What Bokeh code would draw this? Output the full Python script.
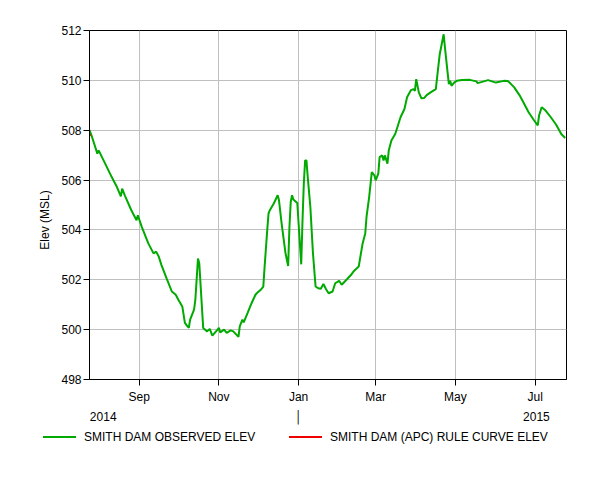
from datetime import datetime
import pandas as pd
from bokeh.plotting import figure
from bokeh.layouts import column
from bokeh.models import (Range1d, FixedTicker, DatetimeTickFormatter, DatetimeAxis, Div)
from bokeh.embed import file_html
from bokeh.resources import INLINE

# ---------------- data ----------------
obs_dates = [
    "2014-07-25", "2014-07-27", "2014-07-31", "2014-08-01", "2014-08-06", "2014-08-11",
    "2014-08-15", "2014-08-18", "2014-08-19", "2014-08-21", "2014-08-26", "2014-08-30",
    "2014-08-31", "2014-09-03", "2014-09-08", "2014-09-12", "2014-09-14", "2014-09-16",
    "2014-09-18", "2014-09-22", "2014-09-26", "2014-09-29", "2014-10-01", "2014-10-04",
    "2014-10-06", "2014-10-08", "2014-10-09", "2014-10-10", "2014-10-13", "2014-10-14",
    "2014-10-16", "2014-10-17", "2014-10-19", "2014-10-20", "2014-10-23", "2014-10-25",
    "2014-10-27", "2014-10-31", "2014-11-01", "2014-11-02", "2014-11-05", "2014-11-07",
    "2014-11-10", "2014-11-12", "2014-11-16", "2014-11-17", "2014-11-19", "2014-11-20",
    "2014-11-23", "2014-11-26", "2014-11-29", "2014-11-30", "2014-12-03", "2014-12-05",
    "2014-12-06", "2014-12-08", "2014-12-09", "2014-12-10", "2014-12-13", "2014-12-16",
    "2014-12-17", "2014-12-19", "2014-12-22", "2014-12-24", "2014-12-25", "2014-12-26",
    "2014-12-27", "2014-12-28", "2014-12-31", "2015-01-01", "2015-01-03", "2015-01-04",
    "2015-01-05", "2015-01-06", "2015-01-07", "2015-01-08", "2015-01-10", "2015-01-12",
    "2015-01-14", "2015-01-16", "2015-01-18", "2015-01-20", "2015-01-22", "2015-01-24",
    "2015-01-27", "2015-01-29", "2015-02-01", "2015-02-03", "2015-02-07", "2015-02-10",
    "2015-02-12", "2015-02-16", "2015-02-19", "2015-02-21", "2015-02-22", "2015-02-24",
    "2015-02-26", "2015-02-28", "2015-03-01", "2015-03-03", "2015-03-04", "2015-03-06",
    "2015-03-07", "2015-03-08", "2015-03-10", "2015-03-11", "2015-03-13", "2015-03-16",
    "2015-03-20", "2015-03-23", "2015-03-25", "2015-03-28", "2015-03-30", "2015-03-31",
    "2015-04-01", "2015-04-03", "2015-04-05", "2015-04-07", "2015-04-09", "2015-04-12",
    "2015-04-16", "2015-04-17", "2015-04-19", "2015-04-22", "2015-04-23", "2015-04-25",
    "2015-04-26", "2015-04-27", "2015-04-28", "2015-04-30", "2015-05-02", "2015-05-06",
    "2015-05-12", "2015-05-17", "2015-05-18", "2015-05-26", "2015-06-01", "2015-06-07",
    "2015-06-10", "2015-06-12", "2015-06-15", "2015-06-19", "2015-06-22", "2015-06-26",
    "2015-06-30", "2015-07-03", "2015-07-04", "2015-07-06", "2015-07-09", "2015-07-13",
    "2015-07-17", "2015-07-21", "2015-07-24",
]
obs_elev = [
    508.00, 507.72, 507.06, 507.19, 506.66, 506.12,
    505.72, 505.35, 505.66, 505.39, 504.79, 504.39,
    504.59, 504.12, 503.46, 503.06, 503.13, 502.93,
    502.60, 502.06, 501.53, 501.40, 501.20, 500.93,
    500.27, 500.13, 500.07, 500.40, 500.80, 501.20,
    502.85, 502.66, 500.93, 500.07, 499.93, 500.03,
    499.76, 500.00, 500.07, 499.89, 500.00, 499.87,
    499.97, 499.93, 499.71, 500.13, 500.40, 500.29,
    500.67, 501.06, 501.40, 501.46, 501.60, 501.73,
    502.53, 503.99, 504.66, 504.79, 505.06, 505.39,
    505.19, 504.26, 503.06, 502.55, 504.13, 505.13,
    505.39, 505.22, 505.08, 504.26, 502.62, 504.39,
    505.86, 506.79, 506.79, 506.12, 504.92, 503.06,
    501.73, 501.66, 501.64, 501.83, 501.62, 501.46,
    501.53, 501.86, 501.96, 501.80, 502.02, 502.19,
    502.33, 502.53, 503.46, 503.86, 504.53, 505.32,
    506.32, 506.19, 505.99, 506.26, 506.92, 506.99,
    506.79, 506.99, 506.66, 507.19, 507.59, 507.86,
    508.52, 508.85, 509.32, 509.61, 509.65, 509.58,
    510.05, 509.52, 509.28, 509.29, 509.41, 509.52,
    509.65, 510.12, 511.05, 511.85, 511.31, 510.32,
    509.85, 509.98, 509.78, 509.91, 509.98, 510.01,
    510.02, 509.96, 509.89, 510.01, 509.91, 509.98,
    509.97, 509.88, 509.72, 509.41, 509.12, 508.72,
    508.41, 508.19, 508.59, 508.92, 508.79, 508.52,
    508.23, 507.85, 507.69,
]
rule_dates = ["2014-07-25 00:00", "2014-07-25 18:00"]
rule_elev = [507.82, 507.78]

x_tick_dates = ["2014-09-01", "2014-11-01", "2015-01-01", "2015-03-01", "2015-05-01", "2015-07-01"]
y_ticks = [498, 500, 502, 504, 506, 508, 510, 512]
y_label = "Elev (MSL)"
series_names = ["SMITH DAM OBSERVED ELEV", "SMITH DAM (APC) RULE CURVE ELEV"]
series_colors = ["#00aa00", "#ee0000"]
# year row under the date axis: (position, text)
year_row_dates = ["2014-08-04 12:00", "2015-01-01", "2015-07-02"]
year_row_texts = ["2014", "\u2502", "2015"]

FONT = "Liberation Sans"

# ---------------- main figure ----------------
obs_x = pd.to_datetime(obs_dates)
rule_x = pd.to_datetime(rule_dates)

p = figure(width=592, height=426, output_backend="svg", toolbar_location=None,
           x_axis_type="datetime",
           x_range=Range1d(datetime(2014, 7, 25), datetime(2015, 7, 25)),
           y_range=Range1d(498, 512),
           min_border_left=89, min_border_right=26, min_border_top=30, min_border_bottom=46)

p.outline_line_color = "black"
p.outline_line_width = 1
p.background_fill_color = "white"
p.border_fill_color = "white"

tick_ms = [int(pd.Timestamp(d).value // 10**6) for d in x_tick_dates]
p.xaxis.ticker = FixedTicker(ticks=tick_ms)
p.xaxis.formatter = DatetimeTickFormatter(months="%b", days="%b", years="%b")
p.yaxis.ticker = FixedTicker(ticks=y_ticks)

for ax in (p.xaxis[0], p.yaxis[0]):
    ax.axis_line_color = "black"
    ax.major_tick_line_color = "black"
    ax.major_tick_out = 6
    ax.major_tick_in = 0
    ax.minor_tick_line_color = None
    ax.major_label_text_font = FONT
    ax.major_label_text_font_size = "12px"
    ax.major_label_text_color = "black"
p.xaxis.major_label_standoff = 4
p.yaxis.major_label_standoff = 2
p.yaxis.axis_label = y_label + "\u00a0" * 9
p.yaxis.axis_label_text_font = FONT
p.yaxis.axis_label_text_font_size = "12px"
p.yaxis.axis_label_text_font_style = "normal"
p.yaxis.axis_label_text_color = "black"
p.yaxis.axis_label_standoff = 6

p.xgrid.ticker = FixedTicker(ticks=tick_ms)
p.ygrid.ticker = FixedTicker(ticks=y_ticks)
p.grid.grid_line_color = "#c0c0c0"
p.grid.grid_line_width = 1

p.line(obs_x, obs_elev, line_color=series_colors[0], line_width=2)
p.line(rule_x, rule_elev, line_color=series_colors[1], line_width=2)

# year row as a second date axis
year_ms = [int(pd.Timestamp(d).value // 10**6) for d in year_row_dates]
year_axis = DatetimeAxis(ticker=FixedTicker(ticks=year_ms),
                         major_label_overrides={m: t for m, t in zip(year_ms, year_row_texts)},
                         axis_line_color=None, major_tick_line_color=None,
                         minor_tick_line_color=None, major_tick_out=0, major_tick_in=0,
                         major_label_standoff=3,
                         major_label_text_font=FONT, major_label_text_font_size="12px",
                         major_label_text_color="black")
p.add_layout(year_axis, "below")

# ---------------- legend strip ----------------
legend_slots = [(43, 84), (289, 330)]   # (line left, text left) in px
parts = []
for (line_left, text_left), name, color in zip(legend_slots, series_names, series_colors):
    parts.append(f'<div style="position:absolute;left:{line_left}px;top:10px;width:33px;'
                 f'height:2px;background:{color};"></div>')
    parts.append(f'<div style="position:absolute;left:{text_left}px;top:4px;line-height:14px;'
                 f'white-space:nowrap;">{name}</div>')
legend_html = ('<div style="position:relative;width:592px;height:76px;'
               f'font-family:\'{FONT}\';font-size:12px;color:black;background:white;">'
               + "".join(parts) + '</div>')
legend_div = Div(text=legend_html, width=592, height=76, margin=0)

layout = column(p, legend_div, spacing=0)
open("out.html", "w").write(file_html(layout, INLINE))
